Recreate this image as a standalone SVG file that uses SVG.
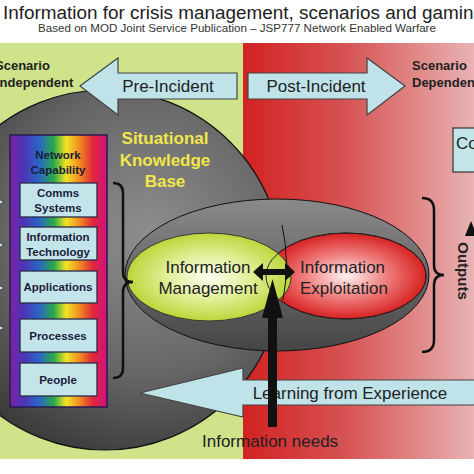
<svg xmlns="http://www.w3.org/2000/svg" width="474" height="474" viewBox="0 0 474 474">
<defs>
<linearGradient id="redBg" x1="0" y1="0" x2="1" y2="0">
<stop offset="0" stop-color="#d22222"/><stop offset="0.45" stop-color="#d65454"/><stop offset="1" stop-color="#e9b3b3"/>
</linearGradient>
<radialGradient id="circG" cx="0.62" cy="0.4" r="0.65">
<stop offset="0" stop-color="#8e8e8e"/><stop offset="0.6" stop-color="#666"/><stop offset="1" stop-color="#3a3a3a"/>
</radialGradient>
<linearGradient id="ellG" x1="0" y1="0" x2="0" y2="1">
<stop offset="0" stop-color="#8a8a8a"/><stop offset="1" stop-color="#454545"/>
</linearGradient>
<radialGradient id="greenG" cx="0.5" cy="0.5" r="0.5">
<stop offset="0" stop-color="#fbfdf0"/><stop offset="0.5" stop-color="#e2ef9a"/><stop offset="1" stop-color="#bcd63a"/>
</radialGradient>
<radialGradient id="redG" cx="0.5" cy="0.5" r="0.5">
<stop offset="0" stop-color="#fff2f2"/><stop offset="0.5" stop-color="#f08080"/><stop offset="1" stop-color="#d82222"/>
</radialGradient>
<linearGradient id="rainbow" x1="0" y1="0" x2="1" y2="0">
<stop offset="0" stop-color="#7a22a8"/><stop offset="0.15" stop-color="#4a36b8"/><stop offset="0.3" stop-color="#2a66c8"/><stop offset="0.45" stop-color="#2aa848"/><stop offset="0.58" stop-color="#f2e424"/><stop offset="0.72" stop-color="#f08a22"/><stop offset="0.85" stop-color="#e02838"/><stop offset="1" stop-color="#d4107e"/>
</linearGradient>
<style>
.sans{font-family:"Liberation Sans",Arial,sans-serif}
.box{fill:#c3e5ea;stroke:#2a2a48;stroke-width:1.3}
.btxt{font-family:"Liberation Sans",Arial,sans-serif;font-weight:bold;font-size:11.5px;fill:#1c1c3c;text-anchor:middle}
.arrow{fill:#bfe3e8;stroke:#444;stroke-width:1.2}
.lbl{font-family:"Liberation Sans",Arial,sans-serif;font-size:17px;fill:#222}
.brace{fill:none;stroke:#111;stroke-width:2.5}
.scen{font-family:"Liberation Sans",Arial,sans-serif;font-weight:bold;font-size:13px;fill:#222}
</style>
</defs>
<rect width="474" height="474" fill="#fff"/>
<g id="background">
<rect x="0" y="43" width="243" height="416" fill="#cfe38a"/>
<rect x="243" y="43" width="231" height="416" fill="url(#redBg)"/>
</g>
<text class="sans" x="3" y="19" font-size="18.9" fill="#222">Information for crisis management, scenarios and gaming</text>
<text class="sans" x="237" y="32" font-size="11.6" fill="#333" text-anchor="middle">Based on MOD Joint Service Publication –  JSP777 Network Enabled Warfare</text>

<g id="situational-knowledge-base">
<ellipse cx="105" cy="270" rx="178" ry="180" fill="url(#circG)" stroke="#111" stroke-width="1.2"/>
<text class="sans" font-weight="bold" font-size="17" fill="#f2e64a" text-anchor="middle"><tspan x="165" y="144">Situational</tspan><tspan x="165" y="166">Knowledge</tspan><tspan x="165" y="187">Base</tspan></text>
</g>
<g id="outer-ellipse">
<ellipse cx="277" cy="275" rx="152" ry="76" fill="url(#ellG)" stroke="#111" stroke-width="1"/>
</g>
<g id="information-exploitation">
<ellipse cx="346" cy="276" rx="80" ry="43" fill="url(#redG)" stroke="#5a1010" stroke-width="1"/>
</g>
<g id="information-management">
<ellipse cx="209" cy="277" rx="82" ry="44" fill="url(#greenG)" stroke="#333" stroke-width="1"/>
<text class="lbl" text-anchor="middle"><tspan x="208" y="273">Information</tspan><tspan x="208" y="294">Management</tspan></text>
</g>
<ellipse cx="346" cy="276" rx="80" ry="43" fill="none" stroke="#222" stroke-width="1"/>
<path d="M282,225 A178,180 0 0 1 283,300" fill="none" stroke="#111" stroke-width="1"/>
<text class="lbl" x="300" y="273">Information</text>
<text class="lbl" x="300" y="294">Exploitation</text>

<g id="network-capability">
<rect x="10" y="135" width="97" height="272" fill="url(#rainbow)" stroke="#2a1a50" stroke-width="1.5"/>
<text class="btxt"><tspan x="58" y="159">Network</tspan><tspan x="58" y="174">Capability</tspan></text>
</g>
<g id="comms-systems"><rect class="box" x="20" y="183" width="77" height="34"/><text class="btxt"><tspan x="58" y="197">Comms</tspan><tspan x="58" y="212">Systems</tspan></text></g>
<g id="information-technology"><rect class="box" x="20" y="227" width="77" height="33"/><text class="btxt"><tspan x="58" y="241">Information</tspan><tspan x="58" y="256">Technology</tspan></text></g>
<g id="applications"><rect class="box" x="20" y="271" width="77" height="32"/><text class="btxt" x="58" y="291">Applications</text></g>
<g id="processes"><rect class="box" x="20" y="319" width="77" height="33"/><text class="btxt" x="58" y="340">Processes</text></g>
<g id="people"><rect class="box" x="20" y="363" width="77" height="33"/><text class="btxt" x="58" y="384">People</text></g>

<g id="left-markers" fill="#bfe3e8" stroke="#333" stroke-width="0.8">
<polygon points="-3,198 4,202 -3,206"/>
<polygon points="-3,241 4,245 -3,249"/>
<polygon points="-3,284 4,288 -3,292"/>
<polygon points="-3,324 4,328 -3,332"/>
</g>

<g id="co-box">
<rect x="453" y="128" width="30" height="44" fill="#c3e5ea" stroke="#333" stroke-width="1.2"/>
<text class="lbl" x="456" y="149">Co</text>
</g>

<g id="scenario-labels">
<text class="scen"><tspan x="-5" y="70">Scenario</tspan><tspan x="-4" y="87">Independent</tspan></text>
<text class="scen"><tspan x="412" y="70">Scenario</tspan><tspan x="412" y="87">Dependent</tspan></text>
</g>

<g id="connectors">
<path class="brace" d="M113,183 Q123,183 123,193 L123,272 Q123,282 133,282 Q123,282 123,292 L123,368 Q123,378 113,378"/>
<path class="brace" d="M422,198 Q434,198 434,210 L434,265 Q434,275 444,275 Q434,275 434,285 L434,340 Q434,352 422,352"/>
<text x="0" y="0" transform="translate(458,271) rotate(90)" class="sans" font-weight="bold" font-size="15" fill="#222" text-anchor="middle">Outputs</text>
<polygon points="471,221 465,236 477,236" fill="#111"/>

<g id="pre-incident"><path class="arrow" d="M80,86 L118,58 L118,73 L237,73 L237,99 L118,99 L118,115 Z"/><text class="lbl" x="168" y="92" text-anchor="middle">Pre-Incident</text></g>
<g id="post-incident"><path class="arrow" d="M405,86 L367,58 L367,73 L248,73 L248,99 L367,99 L367,115 Z"/><text class="lbl" x="316" y="92" text-anchor="middle">Post-Incident</text></g>
<g id="learning"><path class="arrow" d="M140,393 L243,368 L243,380 L480,380 L480,405 L243,405 L243,417 Z"/><text class="lbl" x="350" y="399" text-anchor="middle">Learning from Experience</text></g>
<g id="information-needs">
<rect x="268" y="314" width="9" height="113" fill="#111"/>
<polygon points="272.5,279 283,318 262,318" fill="#111"/>
<text class="lbl" x="202" y="447">Information needs</text>
</g>
<path d="M253,272 L263,263 L263,269 L285,269 L285,263 L295,272 L285,281 L285,275 L263,275 L263,281 Z" fill="#111"/>
</g>
</svg>
